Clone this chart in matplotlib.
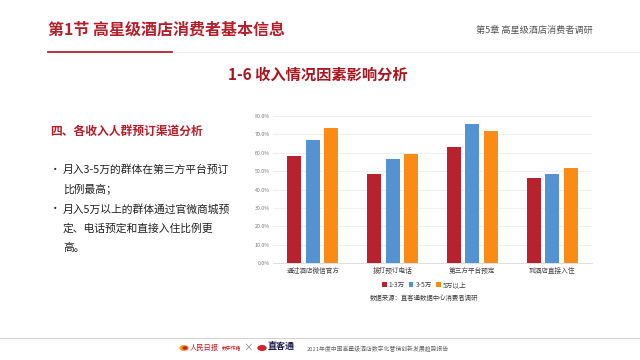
import matplotlib
matplotlib.use("Agg")
import matplotlib.pyplot as plt
from matplotlib.patches import Circle
from matplotlib.lines import Line2D
import numpy as np

plt.rcParams['font.family'] = ['Noto Sans CJK SC', 'DejaVu Sans']

categories = ["通过酒店微信官方", "拨打预订电话", "第三方平台预定", "到酒店直接入住"]
series_names = ["1-3万", "3-5万", "5万以上"]
vals_1_3 = [58.3, 48.2, 62.9, 46.4]
vals_3_5 = [67.2, 56.7, 75.5, 48.2]
vals_5p = [73.2, 59.1, 71.7, 51.5]
y_ticks = [0, 10, 20, 30, 40, 50, 60, 70, 80]
y_tick_labels = ["0.0%", "10.0%", "20.0%", "30.0%", "40.0%", "50.0%", "60.0%", "70.0%", "80.0%"]

header_left = "第1节 高星级酒店消费者基本信息"
header_right = "第5章 高星级酒店消费者调研"
title = "1-6 收入情况因素影响分析"
subheading = "四、各收入人群预订渠道分析"
bullet_lines = [
    ("•", "月入3-5万的群体在第三方平台预订"),
    ("", "比例最高；"),
    ("•", "月入5万以上的群体通过官微商城预"),
    ("", "定、电话预定和直接入住比例更"),
    ("", "高。"),
]
source = "数据来源：直客通数据中心消费者调研"
footer_report = "2021年度中国高星级酒店数字化营销创新发展趋势报告"

RED = "#b3202b"
colors = ["#b7222c", "#5592d2", "#fb8b17"]

W, H = 640, 360
fig = plt.figure(figsize=(6.4, 3.6), dpi=100)
fig.patch.set_facecolor("white")

def fx(x):
    return x / W

def fy(y):
    return 1 - y / H

# header
fig.text(fx(48), fy(29.5), header_left, color=RED, fontsize=11.5, fontweight="bold",
         ha="left", va="center")
fig.text(fx(593), fy(30.5), header_right, color="#555555", fontsize=6.6,
         ha="right", va="center")
fig.add_artist(Line2D([fx(172), fx(640)], [fy(52), fy(52)], color="#f1eded", lw=0.6))
fig.add_artist(Line2D([fx(48), fx(172)], [fy(52), fy(52)], color=RED, lw=1.3))

# title
fig.text(fx(318), fy(74.5), title, color="#a8161f", fontsize=11, fontweight="bold",
         ha="center", va="center")

# left text block
fig.text(fx(50), fy(131.5), subheading, color=RED, fontsize=8.5, fontweight="bold",
         ha="left", va="center")
line_y = [170, 189.5, 209.3, 228.5, 247.8]
for (b, t), yy in zip(bullet_lines, line_y):
    if b:
        fig.text(fx(50), fy(yy), b, color="#222222", fontsize=7.5, ha="left", va="center")
    fig.text(fx(63), fy(yy), t, color="#222222", fontsize=7.75, ha="left", va="center")

# chart
ax = fig.add_axes([fx(273), fy(263), (592 - 273) / W, (263 - 116) / H])
x = np.arange(len(categories))
bw = 0.176
off = 0.232
for i, (vals, c, name) in enumerate(zip([vals_1_3, vals_3_5, vals_5p], colors, series_names)):
    ax.bar(x + (i - 1) * off, vals, width=bw, color=c, label=name, zorder=3)
ax.set_xlim(-0.5, len(categories) - 0.5)
ax.set_ylim(0, 80)
ax.set_yticks(y_ticks)
ax.set_yticklabels(y_tick_labels, fontsize=3.8, color="#777777")
ax.set_xticks(x)
ax.set_xticklabels(categories, fontsize=4.8, color="#404040")
ax.tick_params(axis="both", length=0, pad=2)
ax.tick_params(axis="x", pad=3)
ax.grid(axis="y", color="#ececec", lw=0.6, zorder=0)
for s in ["top", "right", "left"]:
    ax.spines[s].set_visible(False)
ax.spines["bottom"].set_color("#d9d9d9")
ax.spines["bottom"].set_linewidth(0.6)

leg = fig.legend(loc="center", bbox_to_anchor=(fx(424), fy(285)), ncol=3, frameon=False,
                 fontsize=4.8, handlelength=0.7, handleheight=0.7, handletextpad=0.3,
                 columnspacing=0.6)
for t in leg.get_texts():
    t.set_color("#404040")

fig.text(fx(424), fy(297.7), source, fontsize=4.6, color="#404040", ha="center", va="center")

# footer
fig.add_artist(Line2D([0, 1], [fy(338), fy(338)], color="#dccfd0", lw=0.7))
fig.add_artist(Circle((fx(184), fy(348)), 4 / W, transform=fig.transFigure,
                      color="#f0a020", zorder=5))
fig.add_artist(Circle((fx(185), fy(348)), 2 / W, transform=fig.transFigure,
                      color="#d2232a", zorder=6))
fig.text(fx(190), fy(348), "人民日报", fontsize=5.2, color="#c4161c", ha="left", va="center",
         fontstyle="italic")
fig.text(fx(222), fy(348.5), "数字传播", fontsize=3.5, color="#c4161c", ha="left", va="center")
fig.text(fx(248), fy(348), "×", fontsize=7, color="#888888", ha="center", va="center")
fig.add_artist(Circle((fx(262), fy(348)), 4 / W, transform=fig.transFigure,
                      color="#d2232a", zorder=5))
fig.text(fx(268), fy(347.5), "直客通", fontsize=6.5, color="#1a1a4a", fontweight="bold",
         ha="left", va="center")
fig.text(fx(307), fy(348.5), footer_report, fontsize=4.2, color="#666666", ha="left", va="center")

fig.savefig("out.png", dpi=100, facecolor="white")
